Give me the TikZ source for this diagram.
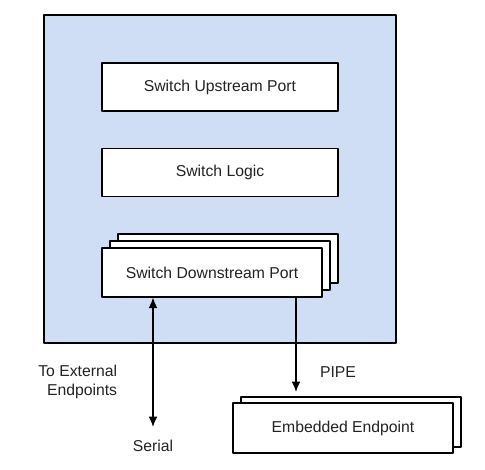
\documentclass[tikz,border=0pt]{standalone}
\usepackage{fontspec}
\setmainfont{Liberation Sans}
\usetikzlibrary{arrows.meta}
\definecolor{switchblue}{RGB}{207,221,245}
\definecolor{inktext}{RGB}{35,35,35}
\tikzset{
	blockbox/.style={draw,fill=white,line width=1pt,minimum width=5.9cm,minimum height=1.2cm,text=inktext},
	portbox/.style={draw,fill=white,line width=1pt,minimum width=5.5cm,minimum height=1.225cm,text=inktext},
	lbl/.style={text=inktext}
}
\begin{document}
\begin{tikzpicture}[>={Latex[length=2.6mm,width=2.2mm]},line join=round,font=\fontsize{11.2}{13.4}\selectfont]
	\useasboundingbox (0,0) rectangle (12.125,11.75);
	% Switch
	\draw[fill=switchblue,line width=1pt] (1.1,3.175) rectangle (9.9,11.375);
	\node[blockbox] (usp) at (5.5,9.575) {Switch Upstream Port};
	\node[blockbox] (logic) at (5.5,7.4375) {Switch Logic};
	% Downstream ports
	\node[portbox] (dsp3) at (5.7,5.29) {};
	\node[portbox] (dsp2) at (5.5,5.115) {};
	\node[portbox] (dsp) at (5.3,4.94) {Switch Downstream Port};
	% Embedded endpoint
	\node[portbox,minimum height=1.25cm] (ep2) at (8.775,1.2) {};
	\node[portbox,minimum height=1.25cm] (ep) at (8.575,1.05) {Embedded Endpoint};
	% Links
	\coordinate (serial) at (3.825,1.075);
	\coordinate (pipe) at (7.4,1.95);
	\draw[<->,line width=1pt] (dsp.south -| serial) -- (serial);
	\draw[->,line width=1pt] (dsp.south -| pipe) -- (pipe);
	\node[lbl] (serlbl) at (3.825,0.6) {Serial};
	\node[lbl,align=right,anchor=east] (extlbl) at (3.05,2.2) {To External\\Endpoints};
	\node[lbl] (pipelbl) at (8.45,2.45) {PIPE};
\end{tikzpicture}
\end{document}
